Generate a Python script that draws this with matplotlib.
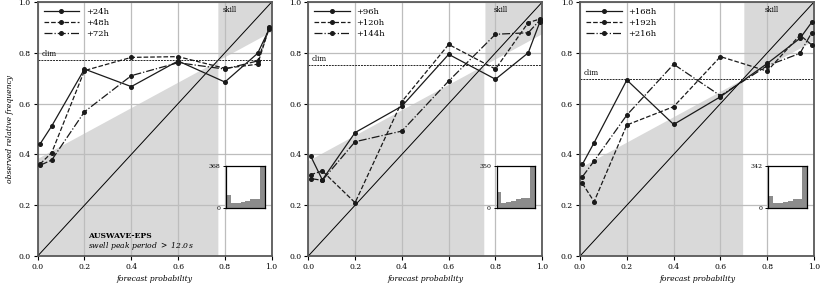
import numpy as np
import matplotlib
matplotlib.use("Agg")
import matplotlib.pyplot as plt

plt.rcParams['font.family'] = 'DejaVu Serif'
plt.rcParams['font.size'] = 5.5

bin_x = [0.01, 0.06, 0.2, 0.4, 0.6, 0.8, 0.94, 0.99]

labels = [['+24h', '+48h', '+72h'],
          ['+96h', '+120h', '+144h'],
          ['+168h', '+192h', '+216h']]

obs = [
    [[0.441, 0.512, 0.736, 0.667, 0.768, 0.685, 0.798, 0.895],
     [0.362, 0.407, 0.730, 0.782, 0.785, 0.739, 0.755, 0.900],
     [0.357, 0.378, 0.568, 0.710, 0.761, 0.736, 0.768, 0.899]],
    [[0.394, 0.300, 0.486, 0.590, 0.794, 0.696, 0.800, 0.922],
     [0.320, 0.335, 0.210, 0.608, 0.833, 0.736, 0.919, 0.933],
     [0.305, 0.298, 0.450, 0.492, 0.689, 0.873, 0.879, 0.929]],
    [[0.361, 0.446, 0.693, 0.518, 0.627, 0.758, 0.857, 0.920],
     [0.286, 0.214, 0.516, 0.588, 0.785, 0.728, 0.870, 0.831],
     [0.312, 0.374, 0.555, 0.755, 0.631, 0.749, 0.798, 0.879]],
]

clim = [0.770, 0.753, 0.698]

hist_counts = [
    [110, 38, 40, 48, 58, 74, 78, 368],
    [130, 40, 48, 58, 70, 80, 85, 350],
    [95, 35, 38, 45, 55, 75, 72, 342],
]

styles = ['-', '--', '-.']

fig = plt.figure(figsize=(8.21, 2.88), dpi=100)
lefts = [0.0459, 0.3755, 0.7065]

for p in range(3):
    ax = fig.add_axes([lefts[p], 0.111, 0.285, 0.882])
    c = clim[p]
    xx = np.linspace(0, 1, 201)
    noskill = (xx + c) / 2
    ax.fill_between(xx, 0, noskill, where=xx <= c, color='#d9d9d9', lw=0, zorder=0)
    ax.fill_between(xx, noskill, 1, where=xx >= c, color='#d9d9d9', lw=0, zorder=0)
    ax.grid(True, color='#bdbdbd', lw=0.9, zorder=0.5)
    ax.set_axisbelow(True)
    ax.plot([0, 1], [0, 1], color='k', lw=0.7, zorder=2)
    ax.axhline(c, color='0.15', lw=0.7, ls=(0, (2, 1)), zorder=2)
    ax.text(0.015, c + 0.008, 'clim', fontsize=5, va='bottom', ha='left')
    ax.text(0.79, 0.985, 'skill', fontsize=5, va='top', ha='left')

    for s in range(3):
        ax.plot(bin_x, obs[p][s], ls=styles[s], color='#1a1a1a', lw=0.9,
                marker='o', ms=2.6, label=labels[p][s], zorder=3)

    ax.set_xlim(0, 1)
    ax.set_ylim(0, 1)
    ax.set_xticks(np.arange(0, 1.01, 0.2))
    ax.set_yticks(np.arange(0, 1.01, 0.2))
    ax.xaxis.set_major_formatter(matplotlib.ticker.FormatStrFormatter('%.1f'))
    ax.yaxis.set_major_formatter(matplotlib.ticker.FormatStrFormatter('%.1f'))
    ax.tick_params(direction='out', length=3, width=0.8, labelsize=5.5, pad=2)
    for sp in ax.spines.values():
        sp.set_color('0.35')
        sp.set_linewidth(1.3)
    ax.set_xlabel('forecast probability', style='italic', fontsize=5.5, labelpad=3)
    if p == 0:
        ax.set_ylabel('observed relative frequency', style='italic', fontsize=5.5, labelpad=3)
        ax.text(0.215, 0.079, 'AUSWAVE-EPS', fontsize=5.5, weight='bold', va='center')
        ax.text(0.215, 0.039, r'swell peak period $>$ 12.0$\,$s', fontsize=5.5,
                style='italic', va='center')

    leg = ax.legend(loc='upper left', frameon=False, handlelength=4.3, numpoints=1,
                    fontsize=6, borderaxespad=0.3, labelspacing=0.35, handletextpad=0.8)

    ins = ax.inset_axes([0.805, 0.19, 0.165, 0.165])
    counts = hist_counts[p]
    ins.bar(np.arange(len(counts)), counts, width=1.0, align='edge', color='#8c8c8c', lw=0)
    ins.set_xlim(0, len(counts))
    ins.set_ylim(0, max(counts))
    ins.set_xticks([])
    ins.set_yticks([0, max(counts)])
    ins.tick_params(axis='y', direction='out', length=2.5, width=0.7, labelsize=4.5, pad=1.5)
    ins.set_facecolor('white')
    for sp in ins.spines.values():
        sp.set_color('k')
        sp.set_linewidth(0.9)

fig.savefig('out.png', dpi=100)
